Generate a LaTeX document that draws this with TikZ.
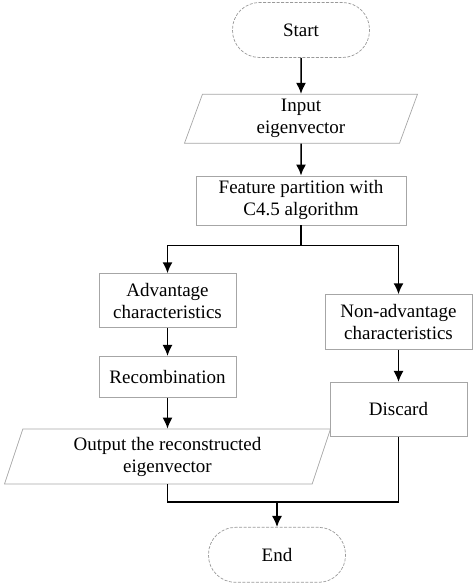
\documentclass[tikz,border=0pt]{standalone}
\usepackage{fontspec}
\setmainfont{Liberation Serif}
\usetikzlibrary{arrows.meta, positioning, shapes.geometric}

\begin{document}
\begin{tikzpicture}[
  x=1pt, y=1pt,
  every node/.style={font=\fontsize{19}{22}\selectfont, text=black},
  terminal/.style={draw=gray!80, dash pattern=on 3pt off 1.5pt, line width=0.7pt, rounded corners=27pt, minimum width=137pt, minimum height=55pt, inner sep=0pt},
  io/.style={draw=gray!70, line width=0.7pt, trapezium, trapezium left angle=65, trapezium right angle=115, trapezium stretches body, inner sep=0pt, align=center},
  process/.style={draw=gray!70, line width=0.7pt, rectangle, minimum width=137pt, minimum height=54pt, inner sep=0pt, align=center},
  arrow/.style={-{Latex[width=10pt,length=11pt]}, line width=1.5pt},
  link/.style={line width=1.5pt}
]
\useasboundingbox (0,0) rectangle (474,585);

% Main vertical flow
\node[terminal] (start) at (301,555) {Start};
\node[io, below=36pt of start, minimum width=233pt, minimum height=49pt] (input) {Input\\eigenvector};
\node[process, below=32pt of input, minimum width=210pt, minimum height=49pt] (partition) {Feature partition with\\C4.5 algorithm};

% Two branches
\node[process, below=48pt of partition, xshift=-133.5pt] (adv) {Advantage\\characteristics};
\node[process, below=69pt of partition, xshift=97.5pt, minimum width=147pt, minimum height=55pt] (nonadv) {Non-advantage\\characteristics};
\node[process, below=28pt of adv, minimum height=41pt] (recomb) {Recombination};
\node[io, below=31pt of recomb, minimum width=326pt, minimum height=55pt] (output) {Output the reconstructed\\eigenvector};
\node[process, below=32pt of nonadv] (discard) {Discard};

\coordinate (merge) at (277,83);
\node[terminal, below=25pt of merge] (end) {End};

% Arrows (main flow)
\draw[arrow] (start) -- (input);
\draw[arrow] (input) -- (partition);
\draw[arrow] (partition.south) -- ++(0,-20) coordinate (split) -| (adv.north);
\draw[arrow] (split) -| (nonadv.north);
\draw[arrow] (adv) -- (recomb);
\draw[arrow] (recomb) -- (output.north -| recomb.south);
\draw[arrow] (nonadv) -- (discard);

% Merge to end
\draw[link] (output.south) |- (merge);
\draw[link] (discard.south) |- (merge);
\draw[arrow] (merge) -- (end);
\end{tikzpicture}
\end{document}
